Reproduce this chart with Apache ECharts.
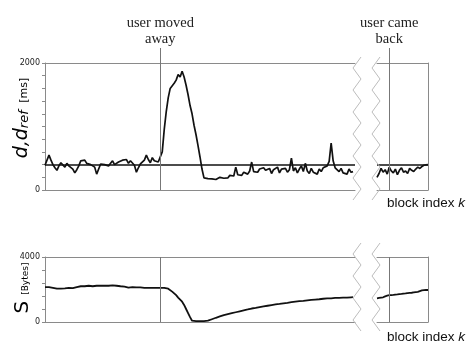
<!DOCTYPE html>
<html>
<head>
<meta charset="utf-8">
<title>d, dref and S over block index</title>
<script src="https://cdn.jsdelivr.net/npm/echarts@6.0.0/dist/echarts.min.js"></script>
<style>
  html, body { margin: 0; padding: 0; background: #fff; }
  #chart { width: 474px; height: 353px; }
</style>
</head>
<body>
<div id="chart"></div>
<script>
// block index k: the axis is broken, part A and part B
var kRangeA = [0, 156];
var kRangeB = [230, 255];
var kMovedAway = 58;
var kCameBack = 236;
var dRef = 400;

// d [ms], part A (k = 0..155)
var dPartA = [
  390, 420, 550, 470, 400, 350, 310, 380, 430, 400,
  360, 420, 380, 350, 330, 270, 320, 380, 460, 430,
  470, 420, 440, 400, 380, 360, 250, 330, 410, 440,
  400, 430, 380, 420, 460, 400, 410, 440, 430, 470,
  450, 480, 420, 460, 440, 390, 280, 350, 410, 400,
  470, 550, 480, 430, 510, 460, 490, 440,
  420,
  600, 950, 1230, 1450, 1600, 1580, 1680, 1730, 1820, 1780, 1870,
  1780, 1650, 1500, 1330, 1200, 1020, 870, 700, 520, 330, 190,
  170, 180, 160, 175, 190, 165, 180, 200, 170, 185,
  210, 190, 230, 250, 220, 360, 240, 260, 230, 280,
  270, 250, 300, 440, 290, 320, 280, 330, 300, 350,
  310, 280, 340, 260, 320, 290, 360, 270, 330, 300,
  340, 280, 320, 500, 300, 350, 270, 330, 380, 290,
  420, 300, 260, 340, 280, 310, 250, 330, 290, 350,
  330, 380, 450, 740, 460, 350, 320, 290, 340, 270,
  300, 250, 330, 280, 290
];
// d [ms], part B (k = 230..255)
var dPartB = [
  200, 260, 340, 280, 320, 250, 360, 300, 270, 330,
  240, 310, 350, 280, 300, 260, 340, 310, 290, 330,
  360, 340, 370, 390, 395, 400
];
// S [Bytes], part A
var sPartA = [
  2150, 2150, 2150, 2130, 2100, 2050, 2050, 2050, 2060, 2060,
  2070, 2100, 2100, 2100, 2080, 2080, 2150, 2150, 2200, 2200,
  2200, 2200, 2230, 2230, 2200, 2200, 2230, 2230, 2230, 2250,
  2230, 2230, 2230, 2230, 2250, 2230, 2230, 2230, 2200, 2200,
  2180, 2150, 2120, 2150, 2150, 2150, 2130, 2130, 2130, 2130,
  2100, 2100, 2100, 2100, 2100, 2100, 2100, 2100,
  2100,
  2100, 2100, 2080, 2050, 1950, 1870, 1780, 1650, 1500, 1380, 1250,
  1050, 800, 550, 300, 80, 60, 60, 60, 60, 60, 60,
  70, 80, 120, 170, 220, 260, 300, 340, 380, 420,
  450, 480, 510, 540, 570, 600, 630, 660, 690, 720,
  740, 770, 800, 830, 850, 870, 900, 920, 940, 960,
  980, 1000, 1020, 1040, 1060, 1080, 1100, 1110, 1130, 1150,
  1170, 1180, 1200, 1220, 1230, 1250, 1260, 1280, 1290, 1300,
  1320, 1330, 1340, 1360, 1370, 1380, 1390, 1400, 1420, 1430,
  1440, 1450, 1455, 1460, 1470, 1480, 1490, 1490, 1500, 1500,
  1510, 1500, 1520, 1520, 1530
];
// S [Bytes], part B
var sPartB = [
  1460, 1480, 1500, 1520, 1580, 1620, 1650, 1660, 1670, 1690,
  1700, 1720, 1730, 1750, 1760, 1780, 1790, 1800, 1820, 1840,
  1860, 1900, 1940, 1960, 1970, 1970
];

// only these tick values get a label
var dTickLabels = [0, 2000];
var sTickLabels = [0, 4000];

var axisGray = '#8a8a8a';

function toPairs(values, k0) {
  return values.map(function (v, i) { return [k0 + i, v]; });
}

// the two x axes (bottom + top) of one grid, top one only draws the frame
function xAxesFor(grid, range) {
  var base = {
    gridIndex: grid, type: 'value', min: range[0], max: range[1],
    axisLine: { show: true, onZero: false, lineStyle: { color: axisGray, width: 1 } },
    axisTick: { show: false }, axisLabel: { show: false }, splitLine: { show: false }
  };
  return [
    Object.assign({ position: 'bottom' }, base),
    Object.assign({ position: 'top' }, base)
  ];
}

function tickedYAxis(grid, max, step, labels) {
  return {
    gridIndex: grid, type: 'value', position: 'left', min: 0, max: max, interval: step,
    axisLine: { show: true, onZero: false, lineStyle: { color: axisGray } },
    axisTick: { show: true, length: 3, lineStyle: { color: axisGray } },
    axisLabel: {
      margin: 5, fontSize: 8, color: '#222', fontFamily: 'DejaVu Sans',
      formatter: function (v) { return labels.indexOf(v) >= 0 ? String(v) : ''; }
    },
    splitLine: { show: false }
  };
}

function frameYAxis(grid, max) {
  return {
    gridIndex: grid, type: 'value', position: 'right', min: 0, max: max,
    axisLine: { show: true, onZero: false, lineStyle: { color: axisGray } },
    axisTick: { show: false }, axisLabel: { show: false }, splitLine: { show: false }
  };
}

// vertical event line, running up out of the grid to carry its label
function eventLine(k, label) {
  return [
    {
      xAxis: k, yAxis: 0,
      lineStyle: { color: '#777', width: 1, type: 'solid' },
      label: {
        show: true, position: 'end', distance: 1, formatter: label,
        fontFamily: 'Liberation Serif', fontSize: 14.5, lineHeight: 16, color: '#222'
      }
    },
    { xAxis: k, y: 48 }
  ];
}

function markLines(items) {
  return {
    silent: true, animation: false, symbol: ['none', 'none'],
    label: { show: false }, emphasis: { disabled: true },
    data: items
  };
}

var refLine = { yAxis: dRef, lineStyle: { color: '#111', width: 1.5, type: 'solid' } };

function lineSeries(xi, yi, data, width, marks) {
  return {
    type: 'line', xAxisIndex: xi, yAxisIndex: yi, data: data,
    showSymbol: false, animation: false, silent: true,
    lineStyle: { color: '#111', width: width },
    markLine: markLines(marks)
  };
}

// zigzag break marks (decoration only)
function zigzag(x, y0, y1) {
  var pts = [], right = true;
  for (var y = y0; y <= y1; y += 11) {
    pts.push([right ? x + 8 : x, y]);
    right = !right;
  }
  return {
    type: 'polyline', silent: true, z: 100,
    shape: { points: pts },
    style: { stroke: '#bdbdbd', lineWidth: 1, fill: null }
  };
}

var chart = echarts.init(document.getElementById('chart'));

var option = {
  backgroundColor: '#fff',
  animation: false,
  grid: [
    { left: 45, top: 63, width: 310, height: 127 },
    { left: 377, top: 63, width: 51, height: 127 },
    { left: 45, top: 257, width: 310, height: 65 },
    { left: 377, top: 257, width: 51, height: 65 }
  ],
  xAxis: [].concat(
    xAxesFor(0, kRangeA), xAxesFor(1, kRangeB),
    xAxesFor(2, kRangeA), xAxesFor(3, kRangeB)
  ),
  yAxis: [
    tickedYAxis(0, 2000, 200, dTickLabels),
    frameYAxis(1, 2000),
    tickedYAxis(2, 4000, 800, sTickLabels),
    frameYAxis(3, 4000)
  ],
  series: [
    lineSeries(0, 0, toPairs(dPartA, kRangeA[0]), 1.7,
      [refLine, eventLine(kMovedAway, 'user moved\naway')]),
    lineSeries(2, 1, toPairs(dPartB, kRangeB[0]), 1.7,
      [refLine, eventLine(kCameBack, 'user came\nback')]),
    lineSeries(4, 2, toPairs(sPartA, kRangeA[0]), 1.8,
      [{ xAxis: kMovedAway, lineStyle: { color: '#777', width: 1, type: 'solid' } }]),
    lineSeries(6, 3, toPairs(sPartB, kRangeB[0]), 1.8,
      [{ xAxis: kCameBack, lineStyle: { color: '#777', width: 1, type: 'solid' } }])
  ],
  graphic: [
    {
      type: 'text', x: 22, y: 118, rotation: Math.PI / 2, silent: true,
      style: {
        text: '{a|d,d}{b|ref}{c| [ms]}',
        align: 'center', verticalAlign: 'middle',
        rich: {
          a: { fontFamily: 'DejaVu Sans', fontStyle: 'italic', fontSize: 19, color: '#111', verticalAlign: 'bottom' },
          b: { fontFamily: 'DejaVu Sans', fontStyle: 'italic', fontSize: 13, color: '#111', verticalAlign: 'bottom' },
          c: { fontFamily: 'DejaVu Sans', fontSize: 11, color: '#111', verticalAlign: 'bottom', padding: [0, 0, 2, 4] }
        }
      }
    },
    {
      type: 'text', x: 23, y: 288, rotation: Math.PI / 2, silent: true,
      style: {
        text: '{a|S}{c| [Bytes]}',
        align: 'center', verticalAlign: 'middle',
        rich: {
          a: { fontFamily: 'DejaVu Sans', fontSize: 20, color: '#111', verticalAlign: 'bottom' },
          c: { fontFamily: 'DejaVu Sans', fontSize: 9, color: '#111', verticalAlign: 'bottom', padding: [0, 0, 3, 3] }
        }
      }
    },
    {
      type: 'text', x: 387, y: 203, silent: true,
      style: {
        text: 'block index {k|k}', align: 'left', verticalAlign: 'middle',
        fontFamily: 'Liberation Sans', fontSize: 13.5, fill: '#111',
        rich: { k: { fontFamily: 'Liberation Sans', fontStyle: 'italic', fontSize: 13.5, color: '#111' } }
      }
    },
    {
      type: 'text', x: 387, y: 337, silent: true,
      style: {
        text: 'block index {k|k}', align: 'left', verticalAlign: 'middle',
        fontFamily: 'Liberation Sans', fontSize: 13.5, fill: '#111',
        rich: { k: { fontFamily: 'Liberation Sans', fontStyle: 'italic', fontSize: 13.5, color: '#111' } }
      }
    },
    zigzag(353, 57, 200),
    zigzag(372, 57, 200),
    zigzag(353, 243, 333),
    zigzag(372, 243, 333)
  ]
};

chart.setOption(option);
</script>
</body>
</html>
